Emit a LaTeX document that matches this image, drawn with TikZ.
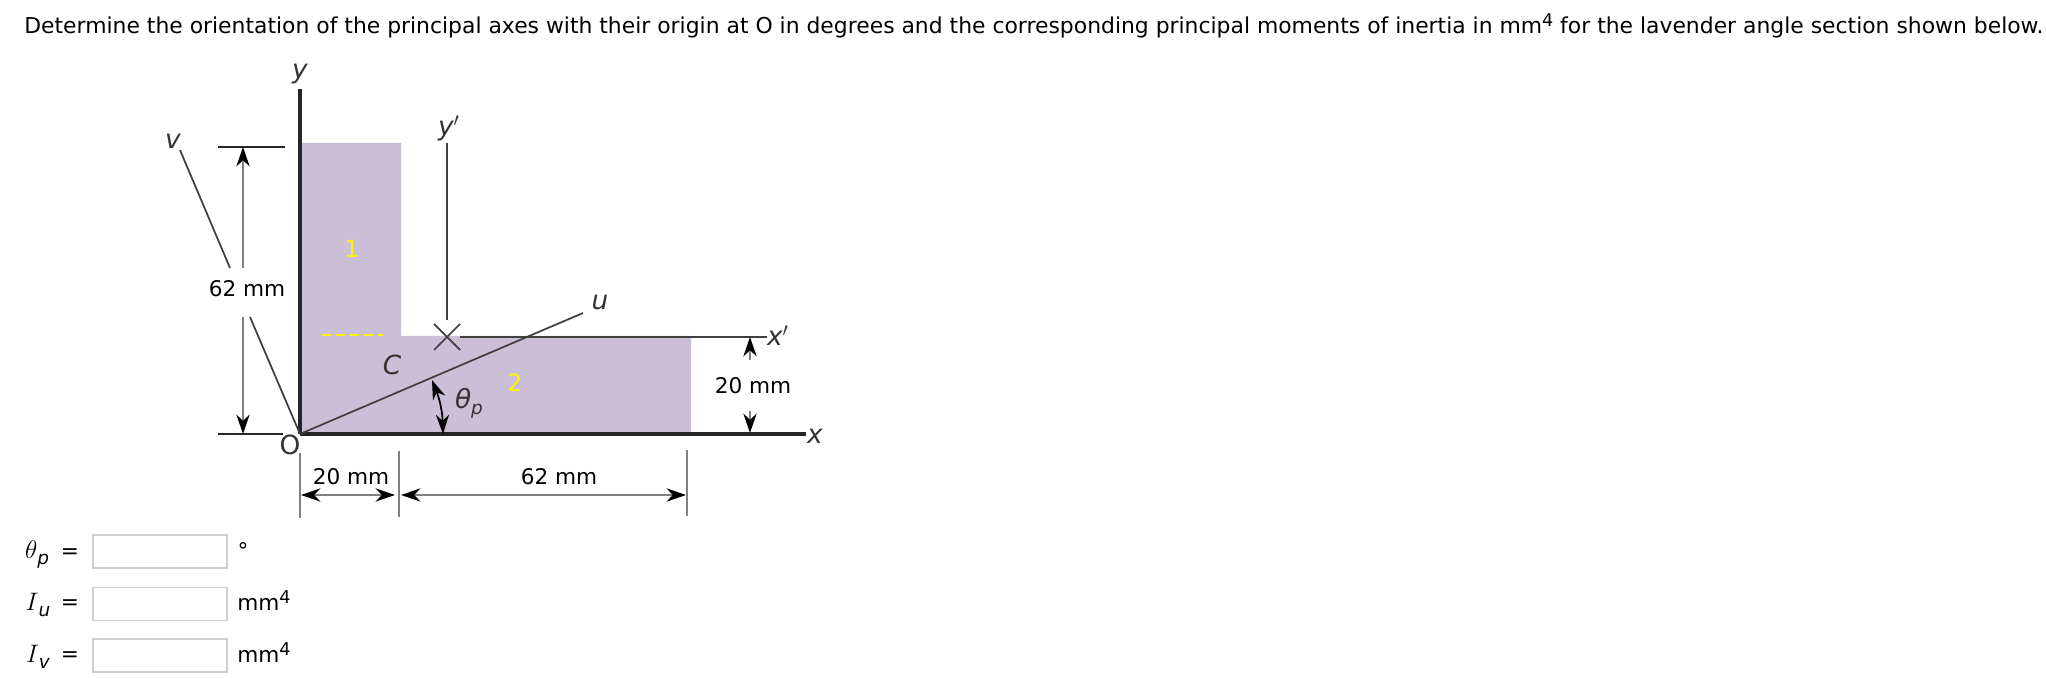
\documentclass[tikz,border=0pt]{standalone}
\usepackage{fontspec}
\setmainfont{DejaVu Sans}
\usetikzlibrary{arrows.meta}
\definecolor{lavender}{HTML}{CBBFD8}
\definecolor{dimgray}{HTML}{808080}
\definecolor{boxgray}{HTML}{CFCFCF}
\newcommand{\supfour}{\raisebox{0.36em}{\fontsize{10}{10}\selectfont 4}}
\newcommand{\lowsub}[1]{\raisebox{-0.22em}{\fontsize{10.5}{11}\selectfont\itshape #1}}
\tikzset{
    txt/.style={inner sep=0pt, font=\fontsize{12.3}{14}\selectfont},
    ital/.style={txt, font=\fontsize{15}{17}\selectfont\itshape, text=black!80},
    axis/.style={line width=1.8pt, black!85},
    thin line/.style={line width=1pt, black!75},
    dimline/.style={line width=1.5pt, dimgray},
    dimtip/.style={-{Stealth[black, length=11pt, width=7.5pt, inset=3.5pt]}},
    dimboth/.style={{Stealth[black, length=11pt, width=7.5pt, inset=3.5pt]}-{Stealth[black, length=11pt, width=7.5pt, inset=3.5pt]}},
    answer/.style={draw=boxgray, line width=0.7pt, fill=white, minimum width=134*0.02cm, minimum height=33*0.02cm, inner sep=0pt}
}
\begin{document}
\begin{tikzpicture}[x=0.02cm, y=-0.02cm]
    \useasboundingbox (0,0) rectangle (2046,678);

    \node[txt, font=\fontsize{12.45}{14}\selectfont, anchor=base west] (title) at (24,34) {Determine the orientation of the principal axes with their origin at O in degrees and the corresponding principal moments of inertia in mm\supfour{} for the lavender angle section shown below.};

    \coordinate (O) at (300,434);
    \fill[lavender] (O) -- (300,143) -- (401,143) -- (401,336) -- (691,336) -- (691,434) -- cycle;

    \coordinate (yend) at (300,89);
    \coordinate (xend) at (806,434);
    \coordinate (xpa) at (460,337);
    \coordinate (xpb) at (767,337);
    \coordinate (ypa) at (447,143);
    \coordinate (ypb) at (447,320);
    \coordinate (uend) at (583,313);
    \coordinate (va) at (180,150);
    \coordinate (vb) at (230,268);
    \coordinate (vc) at (250,317);

    \draw[axis] (O) -- (yend);
    \draw[axis] (O) -- (xend);
    \draw[thin line] (xpa) -- (xpb);
    \draw[thin line] (ypa) -- (ypb);
    \draw[thin line] (O) -- (uend);
    \draw[thin line] (va) -- (vb);
    \draw[thin line] (vc) -- (O);
    \draw[thin line] (434,324) -- (460,350);
    \draw[thin line] (434,350) -- (460,324);
    \draw[yellow, line width=0.8pt, dash pattern=on 5pt off 3pt] (322,335) -- (383,335);

    \coordinate (angx) at (443,434);
    \coordinate (angu) at (432,380);
    \draw[line width=1pt, dimboth] (angx) to[bend right=10] (angu);

    \node[txt] (dimv) at (247,289) {62 mm};
    \node[txt] (dima) at (351,477) {20 mm};
    \node[txt] (dimb) at (559,477) {62 mm};
    \node[txt] (dimc) at (753,386) {20 mm};

    \coordinate (vtop) at (243,147);
    \coordinate (vbot) at (243,434);
    \coordinate (vup) at (243,268);
    \coordinate (vdown) at (243,317);
    \draw[line width=1pt, black!85] (218,147) -- (285,147);
    \draw[line width=1pt, black!85] (218,434) -- (283,434);
    \draw[dimline, dimtip] (vup) -- (vtop);
    \draw[dimline, dimtip] (vdown) -- (vbot);

    \draw[dimline] (300,453) -- (300,518);
    \draw[dimline] (399,451) -- (399,517);
    \draw[dimline] (687,450) -- (687,516);
    \coordinate (ha) at (301,495);
    \coordinate (hb) at (395,495);
    \coordinate (hc) at (401,495);
    \coordinate (hd) at (686,495);
    \draw[dimline, dimboth] (ha) -- (hb);
    \draw[dimline, dimboth] (hc) -- (hd);

    \coordinate (ra) at (750,360);
    \coordinate (rb) at (750,337);
    \coordinate (rc) at (750,411);
    \coordinate (rd) at (750,433);
    \draw[dimline, dimtip] (ra) -- (rb);
    \draw[dimline, dimtip] (rc) -- (rd);

    \node[ital] (ly) at (300,74) {y};
    \node[ital] (lyp) at (449,128) {y$'$};
    \node[ital] (lv) at (173,141) {v};
    \node[ital] (lu) at (600,302) {u};
    \node[ital] (lxp) at (778,336) {x$'$};
    \node[ital] (lx) at (815,436) {x};
    \node[ital] (lc) at (392,365) {C};
    \node[ital] (ltheta) at (469,403) {θ\lowsub{p}};
    \node[txt, font=\fontsize{15}{17}\selectfont, text=black!80] (lo) at (290,445) {O};
    \node[txt, font=\fontsize{13.5}{15}\selectfont, text=yellow] (one) at (352,249) {1};
    \node[txt, font=\fontsize{13.5}{15}\selectfont, text=yellow] (two) at (515,383) {2};

    \node[answer] (boxa) at (160,551.5) {};
    \node[answer] (boxb) at (160,604) {};
    \node[answer] (boxc) at (160,655.5) {};

    \node[txt, font=\fontsize{15}{17}\selectfont] (lp) at (37,555) {$\theta$\lowsub{p}};
    \node[txt, font=\fontsize{15}{17}\selectfont] (lu2) at (38,605) {$I$\lowsub{u}};
    \node[txt, font=\fontsize{15}{17}\selectfont] (lv2) at (38,657) {$I$\lowsub{v}};
    \node[txt] (eqa) at (70,554) {=};
    \node[txt] (eqb) at (70,605) {=};
    \node[txt] (eqc) at (70,657) {=};
    \node[txt] (deg) at (243,550) {°};
    \node[txt, anchor=base west] (ua) at (237,611) {mm\supfour};
    \node[txt, anchor=base west] (ub) at (237,663) {mm\supfour};
\end{tikzpicture}
\end{document}
